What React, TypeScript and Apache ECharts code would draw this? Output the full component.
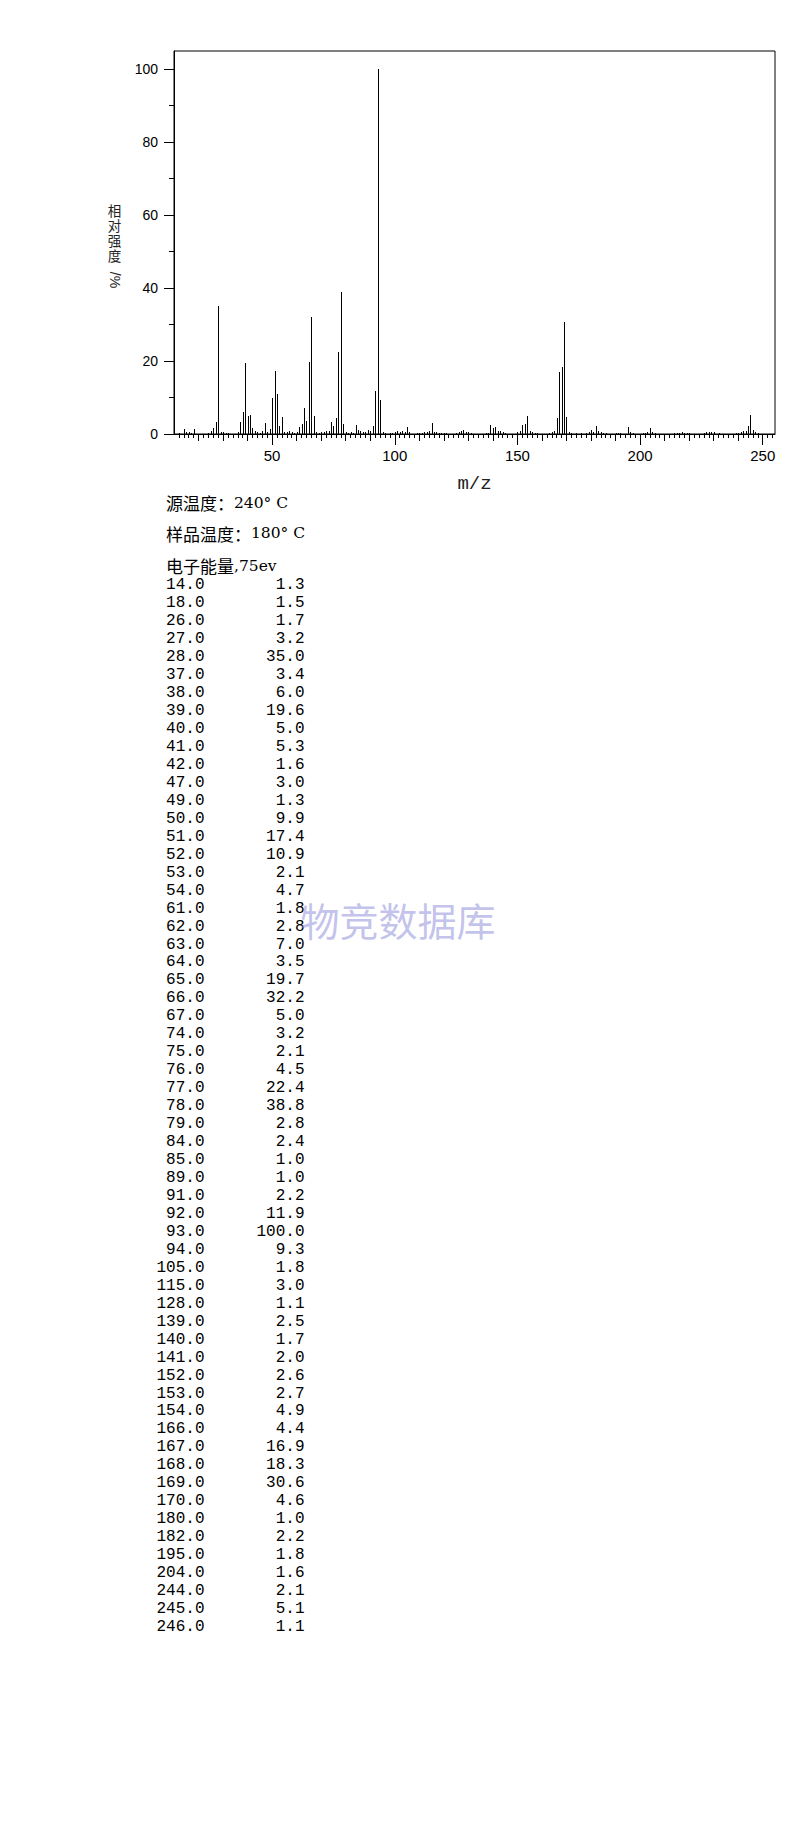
import React, { useEffect, useRef } from 'react';
import * as echarts from 'echarts';

// Table of peaks (m/z, relative intensity %)
const mzValues = [14, 18, 26, 27, 28, 37, 38, 39, 40, 41, 42, 47, 49, 50, 51, 52, 53, 54, 61, 62, 63, 64, 65, 66, 67, 74, 75, 76, 77, 78, 79, 84, 85, 89, 91, 92, 93, 94, 105, 115, 128, 139, 140, 141, 152, 153, 154, 166, 167, 168, 169, 170, 180, 182, 195, 204, 244, 245, 246];
const intensities = [1.3, 1.5, 1.7, 3.2, 35.0, 3.4, 6.0, 19.6, 5.0, 5.3, 1.6, 3.0, 1.3, 9.9, 17.4, 10.9, 2.1, 4.7, 1.8, 2.8, 7.0, 3.5, 19.7, 32.2, 5.0, 3.2, 2.1, 4.5, 22.4, 38.8, 2.8, 2.4, 1.0, 1.0, 2.2, 11.9, 100.0, 9.3, 1.8, 3.0, 1.1, 2.5, 1.7, 2.0, 2.6, 2.7, 4.9, 4.4, 16.9, 18.3, 30.6, 4.6, 1.0, 2.2, 1.8, 1.6, 2.1, 5.1, 1.1];

// Minor peaks (< 1 %) visible in the spectrum but not listed in the table (estimated)
const minorMz = [12, 15, 16, 17, 24, 25, 29, 30, 31, 32, 36, 43, 44, 45, 46, 48, 55, 56, 57, 58, 59, 60, 68, 69, 70, 71, 72, 73, 80, 81, 82, 83, 86, 87, 88, 90, 95, 96, 98, 99, 100, 101, 102, 103, 104, 106, 109, 110, 111, 112, 113, 114, 116, 117, 118, 119, 120, 121, 125, 126, 127, 129, 130, 131, 137, 138, 142, 143, 144, 145, 150, 151, 155, 156, 157, 158, 163, 164, 165, 171, 172, 174, 176, 178, 179, 181, 183, 184, 185, 186, 190, 191, 192, 196, 197, 201, 202, 203, 205, 206, 214, 215, 216, 217, 218, 219, 220, 226, 227, 228, 229, 230, 232, 239, 240, 241, 242, 243, 247, 248];
const minorInt = [0.4, 0.5, 0.6, 0.4, 0.4, 0.7, 0.6, 0.5, 0.3, 0.4, 0.5, 0.9, 0.6, 0.4, 0.8, 0.5, 0.6, 0.5, 0.7, 0.5, 0.3, 0.5, 0.5, 0.4, 0.5, 0.6, 0.7, 0.9, 0.5, 0.4, 0.5, 0.4, 0.7, 0.5, 0.6, 0.8, 0.5, 0.3, 0.4, 0.4, 0.5, 0.8, 0.5, 0.7, 0.6, 0.5, 0.4, 0.4, 0.4, 0.5, 0.5, 0.7, 0.6, 0.6, 0.4, 0.4, 0.4, 0.4, 0.4, 0.6, 0.8, 0.6, 0.5, 0.3, 0.4, 0.4, 0.8, 0.9, 0.5, 0.3, 0.6, 0.9, 0.9, 0.5, 0.4, 0.4, 0.4, 0.5, 0.8, 0.5, 0.3, 0.4, 0.4, 0.4, 0.5, 0.6, 0.7, 0.5, 0.4, 0.4, 0.4, 0.4, 0.3, 0.5, 0.3, 0.4, 0.4, 0.5, 0.5, 0.4, 0.4, 0.4, 0.4, 0.5, 0.4, 0.4, 0.4, 0.4, 0.5, 0.6, 0.5, 0.5, 0.4, 0.4, 0.4, 0.5, 0.7, 0.8, 0.5, 0.4];

// Axis ticks
const xTickLabels = [50, 100, 150, 200, 250];
const yTickLabels = [0, 20, 40, 60, 80, 100];
const yMinorTicks = [10, 30, 50, 70, 90];
const xMediumTicks = [20, 30, 40, 60, 70, 80, 90, 110, 120, 130, 140, 160, 170, 180, 190, 210, 220, 230, 240];
const xMinorTicks: number[] = [];
for (let v = 12; v <= 254; v += 2) xMinorTicks.push(v);

// Header lines: [CJK part, Latin part]
const headerLines: [string, string][] = [
  ['源温度：', '240° C'],
  ['样品温度：', '180° C'],
  ['电子能量', ',75ev'],
];
const yAxisName = ['相', '对', '强', '度'];
const yAxisUnit = '/%';
const watermark = '物竞数据库';

const X_MIN = 10;
const X_MAX = 255;
const Y_MAX = 105;

export default function App() {
  const ref = useRef<HTMLDivElement>(null);
  useEffect(() => {
    if (!ref.current) return;
    const chart = echarts.init(ref.current, undefined, { renderer: 'svg' });

    const peaks: [number, number][] = [];
    mzValues.forEach((m, i) => peaks.push([m, intensities[i]]));
    minorMz.forEach((m, i) => peaks.push([m, minorInt[i]]));
    peaks.sort((a, b) => a[0] - b[0]);

    const sansFont = "'Liberation Sans', Arial, sans-serif";
    const monoFont = "'Liberation Mono', 'Courier New', monospace";
    const cjkSans = "'Noto Sans CJK SC', sans-serif";
    const nameFont = "'Liberation Sans', 'Noto Sans CJK SC', sans-serif";

    const graphics: any[] = [];
    // y-axis name (vertical, stacked characters)
    yAxisName.forEach((ch, i) => {
      graphics.push({
        type: 'text',
        x: 114.5,
        y: 211.5 + i * 15.1,
        style: {
          text: ch,
          fontSize: 13.5,
          fontFamily: nameFont,
          fill: '#222',
          align: 'center',
          verticalAlign: 'middle',
        },
      });
    });
    graphics.push({
      type: 'text',
      x: 114.5,
      y: 280,
      rotation: -Math.PI / 2,
      style: {
        text: yAxisUnit,
        fontSize: 14,
        fontFamily: nameFont,
        fill: '#222',
        align: 'center',
        verticalAlign: 'middle',
      },
    });
    // header lines
    const headerY = [502.7, 533.3, 565.5];
    headerLines.forEach((parts, i) => {
      graphics.push({
        type: 'text',
        x: 166,
        y: headerY[i],
        style: {
          text: `{c|${parts[0]}}{l|${parts[1]}}`,
          align: 'left',
          verticalAlign: 'middle',
          fill: '#000',
          rich: {
            c: { fontSize: 17, fontFamily: cjkSans, fill: '#000' },
            l: { fontSize: 15.5, fontFamily: "'DejaVu Serif', 'Liberation Serif', serif", fill: '#000' },
          },
        },
      });
    });
    // table rows
    mzValues.forEach((m, i) => {
      const y = 585.3 + i * 17.96;
      graphics.push({
        type: 'text',
        x: 204.5,
        y,
        style: { text: m.toFixed(1), fontSize: 16, fontFamily: monoFont, fill: '#000', align: 'right', verticalAlign: 'middle' },
      });
      graphics.push({
        type: 'text',
        x: 304.5,
        y,
        style: { text: intensities[i].toFixed(1), fontSize: 16, fontFamily: monoFont, fill: '#000', align: 'right', verticalAlign: 'middle' },
      });
    });
    // watermark (overlaps the value column, as in the reference)
    graphics.push({
      type: 'text',
      x: 398,
      y: 919,
      z: 100,
      style: {
        text: watermark,
        fontSize: 39,
        fontFamily: cjkSans,
        fill: 'rgba(135,135,215,0.5)',
        align: 'center',
        verticalAlign: 'middle',
      },
    });

    const tickLine = { color: '#000', width: 1 };
    const option: any = {
      animation: false,
      backgroundColor: '#fff',
      grid: {
        left: 174,
        right: 19,
        top: 51,
        height: 383,
        show: true,
        borderColor: '#000',
        borderWidth: 1,
        backgroundColor: 'transparent',
        containLabel: false,
        outerBoundsMode: 'none',
      },
      xAxis: [
        {
          type: 'value',
          min: X_MIN,
          max: X_MAX,
          position: 'bottom',
          name: 'm/z',
          nameLocation: 'middle',
          nameGap: 40,
          nameTextStyle: { fontSize: 19, fontFamily: monoFont, color: '#222' },
          axisLine: { show: true, onZero: false, lineStyle: tickLine },
          axisTick: { show: true, length: 11, customValues: xTickLabels, lineStyle: tickLine },
          axisLabel: { show: true, customValues: xTickLabels, fontSize: 15, fontFamily: sansFont, color: '#000', margin: 14 },
          splitLine: { show: false },
        },
        {
          type: 'value',
          min: X_MIN,
          max: X_MAX,
          position: 'bottom',
          axisLine: { show: false },
          axisTick: { show: true, length: 7, customValues: xMediumTicks, lineStyle: tickLine },
          axisLabel: { show: false },
          splitLine: { show: false },
        },
        {
          type: 'value',
          min: X_MIN,
          max: X_MAX,
          position: 'bottom',
          axisLine: { show: false },
          axisTick: { show: true, length: 4, customValues: xMinorTicks, lineStyle: tickLine },
          axisLabel: { show: false },
          splitLine: { show: false },
        },
      ],
      yAxis: [
        {
          type: 'value',
          min: 0,
          max: Y_MAX,
          position: 'left',
          axisLine: { show: true, onZero: false, lineStyle: tickLine },
          axisTick: { show: true, length: 10, customValues: yTickLabels, lineStyle: tickLine },
          axisLabel: { show: true, customValues: yTickLabels, fontSize: 14, fontFamily: sansFont, color: '#000', margin: 16 },
          splitLine: { show: false },
        },
        {
          type: 'value',
          min: 0,
          max: Y_MAX,
          position: 'left',
          axisLine: { show: false },
          axisTick: { show: true, length: 5, customValues: yMinorTicks, lineStyle: tickLine },
          axisLabel: { show: false },
          splitLine: { show: false },
        },
      ],
      series: [
        {
          type: 'custom',
          xAxisIndex: 0,
          yAxisIndex: 0,
          data: peaks,
          silent: true,
          renderItem: (params: any, api: any) => {
            const top = api.coord([api.value(0), api.value(1)]);
            const base = api.coord([api.value(0), 0]);
            const x = Math.round(top[0]) + 0.5;
            return {
              type: 'line',
              shape: { x1: x, y1: Math.round(base[1]), x2: x, y2: Math.round(top[1]) },
              style: { stroke: '#000', lineWidth: 1 },
            };
          },
        },
      ],
      graphic: graphics,
    };
    chart.setOption(option);
    return () => chart.dispose();
  }, []);

  return (
    <div
      ref={ref}
      style={{ position: 'absolute', left: 0, top: 0, width: 794, height: 1843, background: '#fff' }}
    />
  );
}
